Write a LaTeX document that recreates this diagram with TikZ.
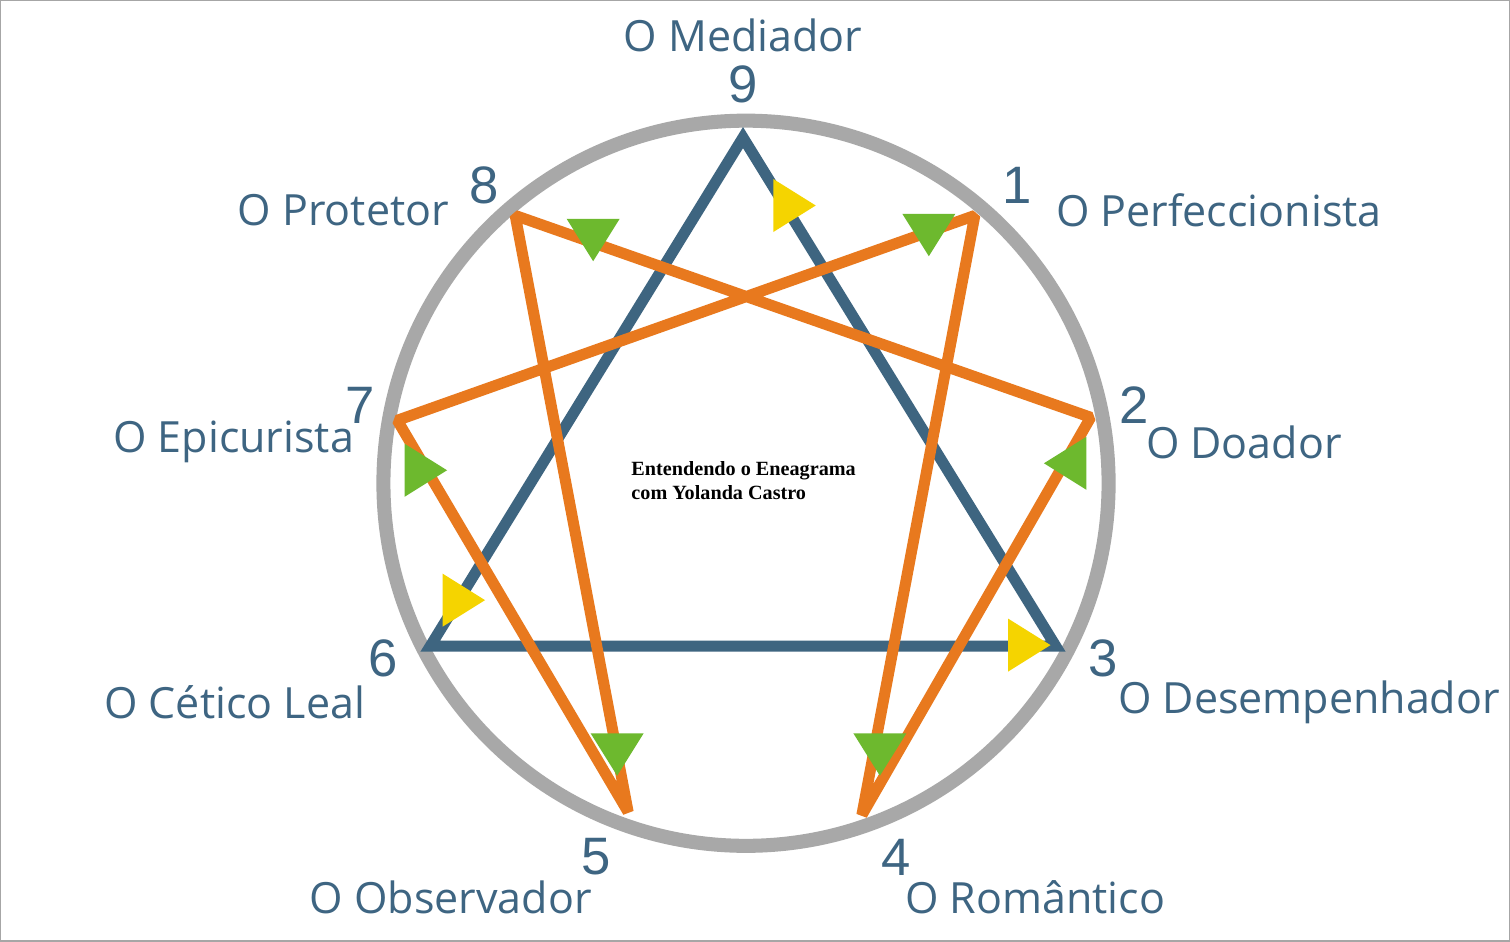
\documentclass[tikz,border=0pt]{standalone}
\usepackage{fontspec}
\setmainfont{Open Sans}
\newfontfamily\digitfont{Liberation Sans}
\newfontfamily\titlefont{Liberation Serif}
\usetikzlibrary{shapes.geometric}
\definecolor{lbl}{HTML}{3E6582}
\definecolor{tri}{HTML}{3E6580}
\definecolor{org}{HTML}{E8791E}
\definecolor{ring}{HTML}{A8A8A8}
\definecolor{ylw}{HTML}{F5D400}
\definecolor{grn}{HTML}{6DB92E}
\tikzset{
  lab/.style={text=lbl,font=\fontsize{24.5}{28}\selectfont,inner sep=0pt},
  num/.style={text=lbl,font=\digitfont\fontsize{30}{32}\selectfont,inner sep=0pt},
  orl/.style={draw=org,line width=6.3pt,line join=bevel},
  bll/.style={draw=tri,line width=6.3pt,line join=miter},
  arr/.style={isosceles triangle,isosceles triangle apex angle=64,minimum height=0.85cm,inner sep=0pt,draw=none},
  pt/.style={coordinate}
}
\begin{document}
\begin{tikzpicture}[x=0.02cm,y=-0.02cm]
\draw[gray!70,line width=0.8pt,fill=white] (0,0) rectangle (1510,941);
\useasboundingbox (0,0) rectangle (1510,941);
\node[draw=ring,line width=8pt,circle,minimum size=14.52cm,inner sep=0pt] (ring) at (746,483) {};
\node[pt] (p9) at (743,137) {};
\node[pt] (p1) at (975,215) {};
\node[pt] (p2) at (1091,417) {};
\node[pt] (p3) at (1056,646) {};
\node[pt] (p4) at (862,815) {};
\node[pt] (p5) at (628,812) {};
\node[pt] (p6) at (430,646) {};
\node[pt] (p7) at (397,420) {};
\node[pt] (p8) at (515,215) {};
\draw[bll] (p9) -- (p3) -- (p6) -- cycle;
\draw[orl] (p1) -- (p4) -- (p2) -- (p8) -- (p5) -- (p7) -- cycle;
% arrowheads
\node[arr,fill=ylw,shape border rotate=0] (y1) at (788,205) {};
\node[arr,fill=ylw,shape border rotate=0] (y2) at (1023,645) {};
\node[arr,fill=ylw,shape border rotate=0] (y3) at (457,600) {};
\node[arr,fill=grn,shape border rotate=-90] (g1) at (929,228) {};
\node[arr,fill=grn,shape border rotate=-90] (g2) at (593,233) {};
\node[arr,fill=grn,shape border rotate=0] (g3) at (419,470) {};
\node[arr,fill=grn,shape border rotate=180] (g4) at (1072,463) {};
\node[arr,fill=grn,shape border rotate=-90] (g5) at (617,748) {};
\node[arr,fill=grn,shape border rotate=-90] (g6) at (880,748) {};
% numbers
\node[num] (n9) at (743,84) {9};
\node[num] (n1) at (1017,185) {1};
\node[num] (n2) at (1134,405) {2};
\node[num] (n3) at (1103,658) {3};
\node[num] (n4) at (896,857) {4};
\node[num] (n5) at (596,857) {5};
\node[num] (n6) at (383,658) {6};
\node[num] (n7) at (360,405) {7};
\node[num] (n8) at (484,185) {8};
% labels
\node[lab] (l9) at (743,35) {O Mediador};
\node[lab,anchor=west] (l1) at (1056,210) {O Perfeccionista};
\node[lab,anchor=west] (l2) at (1146,442) {O Doador};
\node[lab,anchor=west] (l3) at (1118,702) {O Desempenhador};
\node[lab,anchor=west] (l4) at (905,897) {O Romântico};
\node[lab,anchor=east] (l5) at (592,897) {O Observador};
\node[lab,anchor=east] (l6) at (365,702) {O Cético Leal};
\node[lab,anchor=east] (l7) at (354,442) {O Epicurista};
\node[lab,anchor=east] (l8) at (449,210) {O Protetor};
\node[anchor=north west,align=left,inner sep=0pt,font=\titlefont\bfseries\fontsize{11.5}{13.5}\selectfont] (t) at (631,461) {Entendendo o Eneagrama\\com Yolanda Castro};
\end{tikzpicture}
\end{document}
